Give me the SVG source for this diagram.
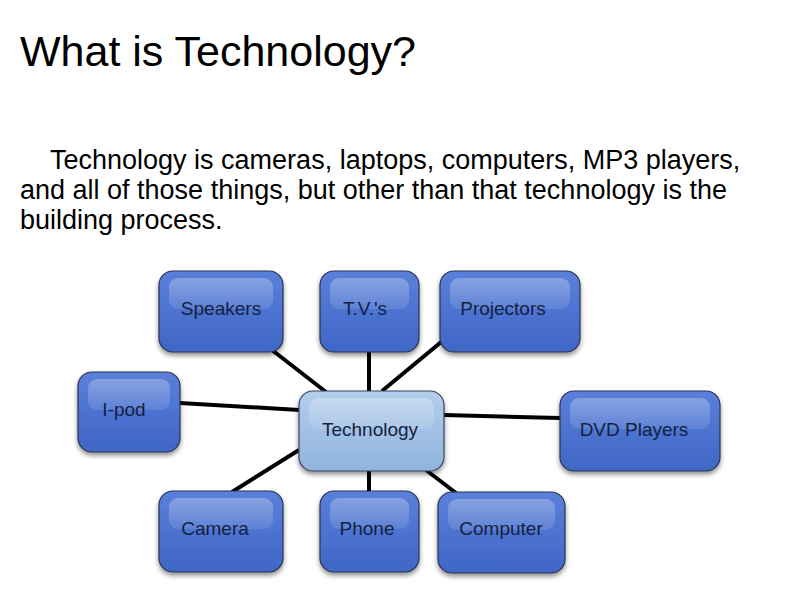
<svg xmlns="http://www.w3.org/2000/svg" width="800" height="600" viewBox="0 0 800 600">
<defs>
<linearGradient id="gb" x1="0" y1="0" x2="0" y2="1">
<stop offset="0" stop-color="#5a80da"/>
<stop offset="1" stop-color="#3f66c6"/>
</linearGradient>
<linearGradient id="gl" x1="0" y1="0" x2="0" y2="1">
<stop offset="0" stop-color="#b4cdec"/>
<stop offset="1" stop-color="#90b4de"/>
</linearGradient>
<linearGradient id="hl" x1="0" y1="0" x2="0" y2="1">
<stop offset="0" stop-color="#ffffff" stop-opacity="0.28"/>
<stop offset="1" stop-color="#ffffff" stop-opacity="0.1"/>
</linearGradient>
<filter id="sh" x="-20%" y="-20%" width="140%" height="150%">
<feGaussianBlur in="SourceAlpha" stdDeviation="2.5"/>
<feOffset dx="0" dy="3" result="b"/>
<feComponentTransfer><feFuncA type="linear" slope="0.45"/></feComponentTransfer>
<feMerge><feMergeNode/><feMergeNode in="SourceGraphic"/></feMerge>
</filter>
</defs>
<style>
.t{font-family:"Liberation Sans",Arial,sans-serif;fill:#000}
.box{fill:url(#gb);stroke:#2a3550;stroke-width:1.2;filter:url(#sh)}
.cbox{fill:url(#gl);stroke:#3a4560;stroke-width:1.2;filter:url(#sh)}
.hl{fill:url(#hl)}
.lbl{font-family:"Liberation Sans",Arial,sans-serif;font-size:19px;fill:#14213f}
.ln{stroke:#000;stroke-width:4;fill:none}
</style>
<rect width="800" height="600" fill="#fff"/>
<text class="t" x="20" y="66" font-size="43">What is Technology?</text>
<text class="t" font-size="27"><tspan x="50" y="169">Technology is cameras, laptops, computers, MP3 players,</tspan><tspan x="20" y="199">and all of those things, but other than that technology is the</tspan><tspan x="20" y="229">building process.</tspan></text>
<g id="connectors">
<line class="ln" x1="272" y1="350" x2="326" y2="392"/>
<line class="ln" x1="369" y1="352" x2="369" y2="391"/>
<line class="ln" x1="446" y1="338" x2="382" y2="391"/>
<line class="ln" x1="180" y1="403" x2="299" y2="410"/>
<line class="ln" x1="444" y1="415" x2="560" y2="418"/>
<line class="ln" x1="232" y1="492" x2="299" y2="450"/>
<line class="ln" x1="369" y1="471" x2="369" y2="491"/>
<line class="ln" x1="456" y1="493" x2="426" y2="470"/>
</g>
<g id="speakers"><rect class="box" x="159" y="271" width="124" height="81" rx="14"/><rect class="hl" x="169" y="278" width="104" height="31" rx="9"/><text class="lbl" x="221" y="315" text-anchor="middle">Speakers</text></g>
<g id="tvs"><rect class="box" x="320" y="271" width="99" height="81" rx="14"/><rect class="hl" x="330" y="278" width="79" height="31" rx="9"/><text class="lbl" x="365" y="315" text-anchor="middle">T.V.'s</text></g>
<g id="projectors"><rect class="box" x="440" y="271" width="140" height="81" rx="14"/><rect class="hl" x="450" y="278" width="120" height="31" rx="9"/><text class="lbl" x="503" y="315" text-anchor="middle">Projectors</text></g>
<g id="ipod"><rect class="box" x="78" y="372" width="102" height="80" rx="14"/><rect class="hl" x="88" y="379" width="82" height="31" rx="9"/><text class="lbl" x="124" y="416" text-anchor="middle">I-pod</text></g>
<g id="technology"><rect class="cbox" x="299" y="391" width="145" height="80" rx="14"/><rect class="hl" x="309" y="398" width="125" height="31" rx="9"/><text class="lbl" x="370" y="436" text-anchor="middle">Technology</text></g>
<g id="dvd"><rect class="box" x="560" y="391" width="160" height="80" rx="14"/><rect class="hl" x="570" y="398" width="140" height="31" rx="9"/><text class="lbl" x="634" y="436" text-anchor="middle">DVD Players</text></g>
<g id="camera"><rect class="box" x="159" y="491" width="124" height="81" rx="14"/><rect class="hl" x="169" y="498" width="104" height="31" rx="9"/><text class="lbl" x="215" y="535" text-anchor="middle">Camera</text></g>
<g id="phone"><rect class="box" x="320" y="491" width="99" height="81" rx="14"/><rect class="hl" x="330" y="498" width="79" height="31" rx="9"/><text class="lbl" x="367" y="535" text-anchor="middle">Phone</text></g>
<g id="computer"><rect class="box" x="438" y="492" width="127" height="81" rx="14"/><rect class="hl" x="448" y="499" width="107" height="31" rx="9"/><text class="lbl" x="501" y="535" text-anchor="middle">Computer</text></g>
</svg>
